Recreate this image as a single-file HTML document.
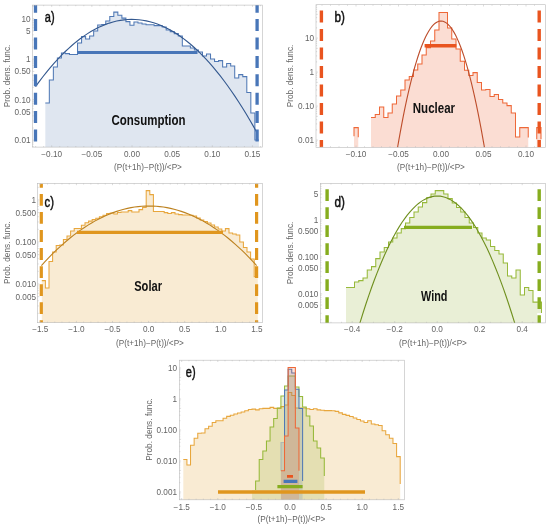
<!DOCTYPE html>
<html><head><meta charset="utf-8"><title>Figure</title>
<style>html,body{margin:0;padding:0;background:#fff}svg{display:block}</style></head>
<body>
<svg width="550" height="526" viewBox="0 0 550 526" font-family='"Liberation Sans", sans-serif'>
<rect width="550" height="526" fill="#fff"/>
<clipPath id="c1"><rect x="32.5" y="5.1" width="230.00" height="142.00"/></clipPath>
<g clip-path="url(#c1)">
<path d="M45.30,103.00H49.33V80.00H53.36V67.00H57.39V58.00H61.42V53.00H65.45V53.60H69.48V54.40H73.51V54.40H77.54V43.00H81.57V36.60H85.60V39.00H89.63V36.00H93.66V31.00H97.69V25.00H101.72V24.40H105.75V21.00H109.78V16.50H113.81V12.10H117.84V15.30H121.87V18.10H125.90V21.60H129.93V25.20H133.96V21.90H137.99V22.90H142.02V23.90H146.05V24.80H150.08V24.80H154.11V25.60H158.14V25.60H162.17V27.00H166.20V30.00H170.23V31.60H174.26V33.60H178.29V36.00H182.32V46.00H186.35V46.00H190.38V48.00H194.41V50.00H198.44V52.00H202.47V56.00H206.50V54.00H210.53V59.00H214.56V61.40H218.59V60.60H222.62V67.00H226.65V63.40H230.68V66.00H234.71V78.00H238.74V74.60H242.77V76.60H246.80V92.40H250.83V113.00H254.86V140.00H258.89V149.10H45.30Z" fill="#5e81b5" fill-opacity="0.2" stroke="none"/>
<path d="M45.30,103.00H49.33V80.00H53.36V67.00H57.39V58.00H61.42V53.00H65.45V53.60H69.48V54.40H73.51V54.40H77.54V43.00H81.57V36.60H85.60V39.00H89.63V36.00H93.66V31.00H97.69V25.00H101.72V24.40H105.75V21.00H109.78V16.50H113.81V12.10H117.84V15.30H121.87V18.10H125.90V21.60H129.93V25.20H133.96V21.90H137.99V22.90H142.02V23.90H146.05V24.80H150.08V24.80H154.11V25.60H158.14V25.60H162.17V27.00H166.20V30.00H170.23V31.60H174.26V33.60H178.29V36.00H182.32V46.00H186.35V46.00H190.38V48.00H194.41V50.00H198.44V52.00H202.47V56.00H206.50V54.00H210.53V59.00H214.56V61.40H218.59V60.60H222.62V67.00H226.65V63.40H230.68V66.00H234.71V78.00H238.74V74.60H242.77V76.60H246.80V92.40H250.83V113.00H254.86V140.00H258.89" fill="none" stroke="#5079b5" stroke-width="1.05"/>
<path d="M35.50,86.68L39.19,81.63L42.88,76.77L46.58,72.11L50.27,67.65L53.96,63.38L57.65,59.31L61.34,55.44L65.03,51.77L68.72,48.30L72.42,45.02L76.11,41.94L79.80,39.05L83.49,36.37L87.18,33.88L90.88,31.59L94.57,29.49L98.26,27.59L101.95,25.89L105.64,24.39L109.33,23.09L113.03,21.98L116.72,21.07L120.41,20.36L124.10,19.84L127.79,19.52L131.48,19.40L135.18,19.48L138.87,19.75L142.56,20.22L146.25,20.89L149.94,21.76L153.63,22.82L157.32,24.08L161.02,25.54L164.71,27.19L168.40,29.05L172.09,31.10L175.78,33.34L179.47,35.79L183.17,38.43L186.86,41.27L190.55,44.30L194.24,47.54L197.93,50.97L201.62,54.60L205.32,58.42L209.01,62.45L212.70,66.67L216.39,71.09L220.08,75.70L223.78,80.51L227.47,85.52L231.16,90.73L234.85,96.13L238.54,101.74L242.23,107.54L245.93,113.53L249.62,119.73L253.31,126.12L257.00,132.71" fill="none" stroke="#33588f" stroke-width="1.12"/>
<path d="M77.6,52.5H197.5" stroke="#4876b8" stroke-width="3.0" fill="none"/>
<path d="M35.50,5.10V12.70M35.50,19.10V31.10M35.50,37.50V49.50M35.50,55.90V67.90M35.50,74.30V86.30M35.50,92.70V104.70M35.50,111.10V123.10M35.50,129.50V141.50" stroke="#4876b8" stroke-width="3.3" fill="none"/>
<path d="M257.10,5.10V12.70M257.10,19.10V31.10M257.10,37.50V49.50M257.10,55.90V67.90M257.10,74.30V86.30M257.10,92.70V104.70M257.10,111.10V123.10M257.10,129.50V141.50" stroke="#4876b8" stroke-width="3.3" fill="none"/>
</g>
<rect x="32.5" y="5.1" width="230.00" height="142.00" fill="none" stroke="#b9b9b9" stroke-width="0.6"/>
<path d="M51.70,147.1v-1.8M51.70,5.1v1.8M91.85,147.1v-1.8M91.85,5.1v1.8M132.00,147.1v-1.8M132.00,5.1v1.8M172.15,147.1v-1.8M172.15,5.1v1.8M212.30,147.1v-1.8M212.30,5.1v1.8M252.45,147.1v-1.8M252.45,5.1v1.8M35.64,147.1v-1.1M35.64,5.1v1.1M43.67,147.1v-1.1M43.67,5.1v1.1M59.73,147.1v-1.1M59.73,5.1v1.1M67.76,147.1v-1.1M67.76,5.1v1.1M75.79,147.1v-1.1M75.79,5.1v1.1M83.82,147.1v-1.1M83.82,5.1v1.1M99.88,147.1v-1.1M99.88,5.1v1.1M107.91,147.1v-1.1M107.91,5.1v1.1M115.94,147.1v-1.1M115.94,5.1v1.1M123.97,147.1v-1.1M123.97,5.1v1.1M140.03,147.1v-1.1M140.03,5.1v1.1M148.06,147.1v-1.1M148.06,5.1v1.1M156.09,147.1v-1.1M156.09,5.1v1.1M164.12,147.1v-1.1M164.12,5.1v1.1M180.18,147.1v-1.1M180.18,5.1v1.1M188.21,147.1v-1.1M188.21,5.1v1.1M196.24,147.1v-1.1M196.24,5.1v1.1M204.27,147.1v-1.1M204.27,5.1v1.1M220.33,147.1v-1.1M220.33,5.1v1.1M228.36,147.1v-1.1M228.36,5.1v1.1M236.39,147.1v-1.1M236.39,5.1v1.1M244.42,147.1v-1.1M244.42,5.1v1.1M260.48,147.1v-1.1M260.48,5.1v1.1M32.5,140.20h1.8M32.5,111.89h1.8M32.5,99.70h1.8M32.5,71.39h1.8M32.5,59.20h1.8M32.5,30.89h1.8M32.5,18.70h1.8M32.5,146.47h1.1M32.5,144.12h1.1M32.5,142.05h1.1M32.5,128.01h1.1M32.5,120.88h1.1M32.5,115.82h1.1M32.5,108.68h1.1M32.5,105.97h1.1M32.5,103.62h1.1M32.5,101.55h1.1M32.5,87.51h1.1M32.5,80.38h1.1M32.5,75.32h1.1M32.5,68.18h1.1M32.5,65.47h1.1M32.5,63.12h1.1M32.5,61.05h1.1M32.5,47.01h1.1M32.5,39.88h1.1M32.5,34.82h1.1M32.5,27.68h1.1M32.5,24.97h1.1M32.5,22.62h1.1M32.5,20.55h1.1M32.5,6.51h1.1" fill="none" stroke="#b9b9b9" stroke-width="0.5"/>
<text x="51.70" y="157.30" font-size="8.2" text-anchor="middle" fill="#646464" >−0.10</text>
<text x="91.85" y="157.30" font-size="8.2" text-anchor="middle" fill="#646464" >−0.05</text>
<text x="132.00" y="157.30" font-size="8.2" text-anchor="middle" fill="#646464" >0.00</text>
<text x="172.15" y="157.30" font-size="8.2" text-anchor="middle" fill="#646464" >0.05</text>
<text x="212.30" y="157.30" font-size="8.2" text-anchor="middle" fill="#646464" >0.10</text>
<text x="252.45" y="157.30" font-size="8.2" text-anchor="middle" fill="#646464" >0.15</text>
<text x="30.50" y="21.60" font-size="8.2" text-anchor="end" fill="#646464" >10</text>
<text x="30.50" y="33.79" font-size="8.2" text-anchor="end" fill="#646464" >5</text>
<text x="30.50" y="62.10" font-size="8.2" text-anchor="end" fill="#646464" >1</text>
<text x="30.50" y="74.29" font-size="8.2" text-anchor="end" fill="#646464" >0.50</text>
<text x="30.50" y="102.60" font-size="8.2" text-anchor="end" fill="#646464" >0.10</text>
<text x="30.50" y="114.79" font-size="8.2" text-anchor="end" fill="#646464" >0.05</text>
<text x="30.50" y="143.10" font-size="8.2" text-anchor="end" fill="#646464" >0.01</text>
<text x="148.00" y="170.00" font-size="8.2" text-anchor="middle" fill="#646464" >(P(t+1h)−P(t))/&lt;P&gt;</text>
<text transform="translate(9.70,76.00) rotate(-90)" font-size="8.3" text-anchor="middle" fill="#646464">Prob. dens. func.</text>
<text x="44.80" y="21.60" font-size="15.2" font-weight="normal" fill="#111" stroke="#111" stroke-width="0.5" stroke-linejoin="round" textLength="9.8" lengthAdjust="spacingAndGlyphs" text-anchor="start">a)</text>
<text x="111.50" y="125.00" font-size="15.2" font-weight="bold" fill="#111" textLength="74" lengthAdjust="spacingAndGlyphs" text-anchor="start">Consumption</text>
<clipPath id="c2"><rect x="316.0" y="4.7" width="229.60" height="142.60"/></clipPath>
<g clip-path="url(#c2)">
<path d="M371.00,117.40H375.25V114.40H379.50V107.00H383.75V117.40H388.00V113.00H392.25V104.00H396.50V96.00H400.75V90.00H405.00V80.00H409.25V76.50H413.50V70.00H417.75V64.00H422.00V55.00H426.25V47.60H430.50V41.00H434.75V30.00H439.00V12.40H443.25V12.40H447.50V28.00H451.75V39.00H456.00V49.00H460.25V61.20H464.50V70.20H468.75V75.50H473.00V72.60H477.25V82.50H481.50V89.90H485.75V89.50H490.00V96.40H494.25V94.50H498.50V99.40H502.75V103.00H507.00V105.60H511.25V113.00H515.50V137.00H519.75V127.60H524.00V127.60H528.25V149.30H371.00Z" fill="#eb6235" fill-opacity="0.22" stroke="none"/>
<path d="M354.00,127.60H358.25V149.30H354.00Z" fill="#eb6235" fill-opacity="0.22" stroke="none"/>
<path d="M536.75,127.60H541.00V149.30H536.75Z" fill="#eb6235" fill-opacity="0.22" stroke="none"/>
<path d="M371.00,117.4H375.25V114.40H379.50V107.00H383.75V117.40H388.00V113.00H392.25V104.00H396.50V96.00H400.75V90.00H405.00V80.00H409.25V76.50H413.50V70.00H417.75V64.00H422.00V55.00H426.25V47.60H430.50V41.00H434.75V30.00H439.00V12.40H443.25V12.40H447.50V28.00H451.75V39.00H456.00V49.00H460.25V61.20H464.50V70.20H468.75V75.50H473.00V72.60H477.25V82.50H481.50V89.90H485.75V89.50H490.00V96.40H494.25V94.50H498.50V99.40H502.75V103.00H507.00V105.60H511.25V113.00H515.50V137.00H519.75V127.60H524.00V127.60H528.25V137.5" fill="none" stroke="#ee6838" stroke-width="1.05"/>
<path d="M354.00,136.3V127.6H358.25V137.3" fill="none" stroke="#ee6838" stroke-width="1.05"/>
<path d="M536.75,139.3V127.6H541.00V139.3" fill="none" stroke="#ee6838" stroke-width="1.05"/>
<path d="M394.00,169.00L395.58,159.20L397.17,149.73L398.75,140.60L400.33,131.80L401.92,123.34L403.50,115.22L405.08,107.43L406.67,99.98L408.25,92.86L409.83,86.08L411.42,79.64L413.00,73.53L414.58,67.76L416.17,62.32L417.75,57.22L419.33,52.45L420.92,48.02L422.50,43.93L424.08,40.17L425.67,36.75L427.25,33.67L428.83,30.92L430.42,28.50L432.00,26.43L433.58,24.69L435.17,23.28L436.75,22.21L438.33,21.48L439.92,21.08L441.50,21.02L443.08,21.29L444.67,21.90L446.25,22.85L447.83,24.13L449.42,25.75L451.00,27.70L452.58,29.99L454.17,32.62L455.75,35.58L457.33,38.87L458.92,42.51L460.50,46.48L462.08,50.78L463.67,55.42L465.25,60.40L466.83,65.71L468.42,71.36L470.00,77.35L471.58,83.67L473.17,90.32L474.75,97.32L476.33,104.65L477.92,112.31L479.50,120.31L481.08,128.65L482.67,137.32L484.25,146.33L485.83,155.67L487.42,165.35L489.00,175.37" fill="none" stroke="#bd4d2b" stroke-width="1.12"/>
<path d="M424.6,45.7H456.4" stroke="#e9541f" stroke-width="3.5" fill="none"/>
<path d="M321.40,10.40V22.60M321.40,28.90V41.10M321.40,47.40V59.60M321.40,65.90V78.10M321.40,84.40V96.60M321.40,102.90V115.10M321.40,121.40V133.60M321.40,139.90V147.30" stroke="#e9541f" stroke-width="3.4" fill="none"/>
<path d="M539.20,10.40V22.60M539.20,28.90V41.10M539.20,47.40V59.60M539.20,65.90V78.10M539.20,84.40V96.60M539.20,102.90V115.10M539.20,121.40V133.60M539.20,139.90V147.30" stroke="#e9541f" stroke-width="3.4" fill="none"/>
</g>
<rect x="316.0" y="4.7" width="229.60" height="142.60" fill="none" stroke="#b9b9b9" stroke-width="0.6"/>
<path d="M356.00,147.3v-1.8M356.00,4.7v1.8M398.50,147.3v-1.8M398.50,4.7v1.8M441.00,147.3v-1.8M441.00,4.7v1.8M483.50,147.3v-1.8M483.50,4.7v1.8M526.00,147.3v-1.8M526.00,4.7v1.8M322.00,147.3v-1.1M322.00,4.7v1.1M330.50,147.3v-1.1M330.50,4.7v1.1M339.00,147.3v-1.1M339.00,4.7v1.1M347.50,147.3v-1.1M347.50,4.7v1.1M364.50,147.3v-1.1M364.50,4.7v1.1M373.00,147.3v-1.1M373.00,4.7v1.1M381.50,147.3v-1.1M381.50,4.7v1.1M390.00,147.3v-1.1M390.00,4.7v1.1M407.00,147.3v-1.1M407.00,4.7v1.1M415.50,147.3v-1.1M415.50,4.7v1.1M424.00,147.3v-1.1M424.00,4.7v1.1M432.50,147.3v-1.1M432.50,4.7v1.1M449.50,147.3v-1.1M449.50,4.7v1.1M458.00,147.3v-1.1M458.00,4.7v1.1M466.50,147.3v-1.1M466.50,4.7v1.1M475.00,147.3v-1.1M475.00,4.7v1.1M492.00,147.3v-1.1M492.00,4.7v1.1M500.50,147.3v-1.1M500.50,4.7v1.1M509.00,147.3v-1.1M509.00,4.7v1.1M517.50,147.3v-1.1M517.50,4.7v1.1M534.50,147.3v-1.1M534.50,4.7v1.1M316.0,140.10h1.8M316.0,116.34h1.8M316.0,106.10h1.8M316.0,82.34h1.8M316.0,72.10h1.8M316.0,48.34h1.8M316.0,38.10h1.8M316.0,14.34h1.8M316.0,145.37h1.1M316.0,143.39h1.1M316.0,141.66h1.1M316.0,129.86h1.1M316.0,123.88h1.1M316.0,119.63h1.1M316.0,113.64h1.1M316.0,111.37h1.1M316.0,109.39h1.1M316.0,107.66h1.1M316.0,95.86h1.1M316.0,89.88h1.1M316.0,85.63h1.1M316.0,79.64h1.1M316.0,77.37h1.1M316.0,75.39h1.1M316.0,73.66h1.1M316.0,61.86h1.1M316.0,55.88h1.1M316.0,51.63h1.1M316.0,45.64h1.1M316.0,43.37h1.1M316.0,41.39h1.1M316.0,39.66h1.1M316.0,27.86h1.1M316.0,21.88h1.1M316.0,17.63h1.1M316.0,11.64h1.1M316.0,9.37h1.1M316.0,7.39h1.1M316.0,5.66h1.1" fill="none" stroke="#b9b9b9" stroke-width="0.5"/>
<text x="356.00" y="157.30" font-size="8.2" text-anchor="middle" fill="#646464" >−0.10</text>
<text x="398.50" y="157.30" font-size="8.2" text-anchor="middle" fill="#646464" >−0.05</text>
<text x="441.00" y="157.30" font-size="8.2" text-anchor="middle" fill="#646464" >0.00</text>
<text x="483.50" y="157.30" font-size="8.2" text-anchor="middle" fill="#646464" >0.05</text>
<text x="526.00" y="157.30" font-size="8.2" text-anchor="middle" fill="#646464" >0.10</text>
<text x="314.00" y="41.00" font-size="8.2" text-anchor="end" fill="#646464" >10</text>
<text x="314.00" y="75.00" font-size="8.2" text-anchor="end" fill="#646464" >1</text>
<text x="314.00" y="109.00" font-size="8.2" text-anchor="end" fill="#646464" >0.10</text>
<text x="314.00" y="143.00" font-size="8.2" text-anchor="end" fill="#646464" >0.01</text>
<text x="431.00" y="170.00" font-size="8.2" text-anchor="middle" fill="#646464" >(P(t+1h)−P(t))/&lt;P&gt;</text>
<text transform="translate(293.40,76.00) rotate(-90)" font-size="8.3" text-anchor="middle" fill="#646464">Prob. dens. func.</text>
<text x="334.60" y="21.60" font-size="15.2" font-weight="normal" fill="#111" stroke="#111" stroke-width="0.5" stroke-linejoin="round" textLength="10.4" lengthAdjust="spacingAndGlyphs" text-anchor="start">b)</text>
<text x="412.80" y="113.00" font-size="15.2" font-weight="bold" fill="#111" textLength="42.3" lengthAdjust="spacingAndGlyphs" text-anchor="start">Nuclear</text>
<clipPath id="c3"><rect x="37.6" y="183.4" width="225.00" height="139.30"/></clipPath>
<g clip-path="url(#c3)">
<path d="M41.80,280.60H45.40V288.00H49.00V261.40H52.60V252.00H56.20V245.40H59.80V245.00H63.40V239.40H67.00V236.00H70.60V230.90H74.20V228.50H77.80V228.50H81.40V225.20H85.00V222.70H88.60V221.10H92.20V219.60H95.80V218.20H99.40V216.80H103.00V215.20H106.60V213.60H110.20V213.00H113.80V214.00H117.40V212.40H121.00V212.00H124.60V212.00H128.20V210.60H131.80V212.00H135.40V212.00H139.00V209.60H142.60V207.40H146.20V190.60H149.80V194.60H153.40V211.40H157.00V211.40H160.60V211.40H164.20V212.60H167.80V213.40H171.40V212.60H175.00V214.00H178.60V214.60H182.20V215.00H185.80V215.00H189.40V215.20H193.00V216.00H196.60V218.00H200.20V220.00H203.80V221.40H207.40V223.00H211.00V225.00H214.60V227.00H218.20V229.00H221.80V231.00H225.40V228.60H229.00V233.00H232.60V234.00H236.20V235.00H239.80V242.00H243.40V247.40H247.00V252.00H250.60V259.00H254.20V276.70H257.80V324.70H41.80Z" fill="#e19c24" fill-opacity="0.2" stroke="none"/>
<path d="M41.80,280.60H45.40V288.00H49.00V261.40H52.60V252.00H56.20V245.40H59.80V245.00H63.40V239.40H67.00V236.00H70.60V230.90H74.20V228.50H77.80V228.50H81.40V225.20H85.00V222.70H88.60V221.10H92.20V219.60H95.80V218.20H99.40V216.80H103.00V215.20H106.60V213.60H110.20V213.00H113.80V214.00H117.40V212.40H121.00V212.00H124.60V212.00H128.20V210.60H131.80V212.00H135.40V212.00H139.00V209.60H142.60V207.40H146.20V190.60H149.80V194.60H153.40V211.40H157.00V211.40H160.60V211.40H164.20V212.60H167.80V213.40H171.40V212.60H175.00V214.00H178.60V214.60H182.20V215.00H185.80V215.00H189.40V215.20H193.00V216.00H196.60V218.00H200.20V220.00H203.80V221.40H207.40V223.00H211.00V225.00H214.60V227.00H218.20V229.00H221.80V231.00H225.40V228.60H229.00V233.00H232.60V234.00H236.20V235.00H239.80V242.00H243.40V247.40H247.00V252.00H250.60V259.00H254.20V276.70H257.80" fill="none" stroke="#e8a63c" stroke-width="1.05"/>
<path d="M41.40,265.51L44.99,261.61L48.57,257.84L52.16,254.20L55.75,250.70L59.33,247.33L62.92,244.09L66.51,240.98L70.09,238.00L73.68,235.16L77.27,232.45L80.85,229.87L84.44,227.42L88.03,225.11L91.61,222.93L95.20,220.88L98.79,218.96L102.37,217.17L105.96,215.52L109.55,214.00L113.13,212.61L116.72,211.36L120.31,210.23L123.89,209.24L127.48,208.38L131.07,207.65L134.65,207.06L138.24,206.60L141.83,206.26L145.41,206.07L149.00,206.00L152.59,206.07L156.17,206.26L159.76,206.60L163.35,207.06L166.93,207.65L170.52,208.38L174.11,209.24L177.69,210.23L181.28,211.36L184.87,212.61L188.45,214.00L192.04,215.52L195.63,217.17L199.21,218.96L202.80,220.88L206.39,222.93L209.97,225.11L213.56,227.42L217.15,229.87L220.73,232.45L224.32,235.16L227.91,238.00L231.49,240.98L235.08,244.09L238.67,247.33L242.25,250.70L245.84,254.20L249.43,257.84L253.01,261.61L256.60,265.51" fill="none" stroke="#bd8220" stroke-width="1.12"/>
<path d="M77,232.4H223" stroke="#e0961e" stroke-width="3.4" fill="none"/>
<path d="M41.30,183.40V187.76M41.30,194.00V205.80M41.30,212.04V223.84M41.30,230.08V241.88M41.30,248.12V259.92M41.30,266.16V277.96M41.30,284.20V296.00M41.30,302.24V314.04M41.30,320.28V322.70" stroke="#e0961e" stroke-width="3.2" fill="none"/>
<path d="M256.60,183.40V187.76M256.60,194.00V205.80M256.60,212.04V223.84M256.60,230.08V241.88M256.60,248.12V259.92M256.60,266.16V277.96M256.60,284.20V296.00M256.60,302.24V314.04M256.60,320.28V322.70" stroke="#e0961e" stroke-width="3.2" fill="none"/>
</g>
<rect x="37.6" y="183.4" width="225.00" height="139.30" fill="none" stroke="#b9b9b9" stroke-width="0.6"/>
<path d="M40.30,322.7v-1.8M40.30,183.4v1.8M76.40,322.7v-1.8M76.40,183.4v1.8M112.50,322.7v-1.8M112.50,183.4v1.8M148.60,322.7v-1.8M148.60,183.4v1.8M184.70,322.7v-1.8M184.70,183.4v1.8M220.80,322.7v-1.8M220.80,183.4v1.8M256.90,322.7v-1.8M256.90,183.4v1.8M47.52,322.7v-1.1M47.52,183.4v1.1M54.74,322.7v-1.1M54.74,183.4v1.1M61.96,322.7v-1.1M61.96,183.4v1.1M69.18,322.7v-1.1M69.18,183.4v1.1M83.62,322.7v-1.1M83.62,183.4v1.1M90.84,322.7v-1.1M90.84,183.4v1.1M98.06,322.7v-1.1M98.06,183.4v1.1M105.28,322.7v-1.1M105.28,183.4v1.1M119.72,322.7v-1.1M119.72,183.4v1.1M126.94,322.7v-1.1M126.94,183.4v1.1M134.16,322.7v-1.1M134.16,183.4v1.1M141.38,322.7v-1.1M141.38,183.4v1.1M155.82,322.7v-1.1M155.82,183.4v1.1M163.04,322.7v-1.1M163.04,183.4v1.1M170.26,322.7v-1.1M170.26,183.4v1.1M177.48,322.7v-1.1M177.48,183.4v1.1M191.92,322.7v-1.1M191.92,183.4v1.1M199.14,322.7v-1.1M199.14,183.4v1.1M206.36,322.7v-1.1M206.36,183.4v1.1M213.58,322.7v-1.1M213.58,183.4v1.1M228.02,322.7v-1.1M228.02,183.4v1.1M235.24,322.7v-1.1M235.24,183.4v1.1M242.46,322.7v-1.1M242.46,183.4v1.1M249.68,322.7v-1.1M249.68,183.4v1.1M37.6,296.64h1.8M37.6,284.00h1.8M37.6,254.64h1.8M37.6,242.00h1.8M37.6,212.64h1.8M37.6,200.00h1.8M37.6,313.36h1.1M37.6,305.96h1.1M37.6,300.71h1.1M37.6,293.32h1.1M37.6,290.51h1.1M37.6,288.07h1.1M37.6,285.92h1.1M37.6,271.36h1.1M37.6,263.96h1.1M37.6,258.71h1.1M37.6,251.32h1.1M37.6,248.51h1.1M37.6,246.07h1.1M37.6,243.92h1.1M37.6,229.36h1.1M37.6,221.96h1.1M37.6,216.71h1.1M37.6,209.32h1.1M37.6,206.51h1.1M37.6,204.07h1.1M37.6,201.92h1.1M37.6,187.36h1.1" fill="none" stroke="#b9b9b9" stroke-width="0.5"/>
<text x="40.30" y="332.30" font-size="8.2" text-anchor="middle" fill="#646464" >−1.5</text>
<text x="76.40" y="332.30" font-size="8.2" text-anchor="middle" fill="#646464" >−1.0</text>
<text x="112.50" y="332.30" font-size="8.2" text-anchor="middle" fill="#646464" >−0.5</text>
<text x="148.60" y="332.30" font-size="8.2" text-anchor="middle" fill="#646464" >0.0</text>
<text x="184.70" y="332.30" font-size="8.2" text-anchor="middle" fill="#646464" >0.5</text>
<text x="220.80" y="332.30" font-size="8.2" text-anchor="middle" fill="#646464" >1.0</text>
<text x="256.90" y="332.30" font-size="8.2" text-anchor="middle" fill="#646464" >1.5</text>
<text x="36.00" y="202.90" font-size="8.2" text-anchor="end" fill="#646464" >1</text>
<text x="36.00" y="215.54" font-size="8.2" text-anchor="end" fill="#646464" >0.500</text>
<text x="36.00" y="244.90" font-size="8.2" text-anchor="end" fill="#646464" >0.100</text>
<text x="36.00" y="257.54" font-size="8.2" text-anchor="end" fill="#646464" >0.050</text>
<text x="36.00" y="286.90" font-size="8.2" text-anchor="end" fill="#646464" >0.010</text>
<text x="36.00" y="299.54" font-size="8.2" text-anchor="end" fill="#646464" >0.005</text>
<text x="150.00" y="345.50" font-size="8.2" text-anchor="middle" fill="#646464" >(P(t+1h)−P(t))/&lt;P&gt;</text>
<text transform="translate(9.70,252.60) rotate(-90)" font-size="8.3" text-anchor="middle" fill="#646464">Prob. dens. func.</text>
<text x="44.60" y="207.00" font-size="15.2" font-weight="normal" fill="#111" stroke="#111" stroke-width="0.5" stroke-linejoin="round" textLength="9.4" lengthAdjust="spacingAndGlyphs" text-anchor="start">c)</text>
<text x="134.20" y="290.50" font-size="15.2" font-weight="bold" fill="#111" textLength="27.8" lengthAdjust="spacingAndGlyphs" text-anchor="start">Solar</text>
<clipPath id="c4"><rect x="320.4" y="183.4" width="225.20" height="139.50"/></clipPath>
<g clip-path="url(#c4)">
<path d="M346.00,287.40H350.25V287.40H354.50V282.00H358.75V280.60H363.00V278.00H367.25V270.00H371.50V266.60H375.75V258.60H380.00V252.00H384.25V247.50H388.50V242.00H392.75V238.00H397.00V233.00H401.25V228.60H405.50V223.00H409.75V217.40H414.00V212.00H418.25V207.00H422.50V202.60H426.75V197.40H431.00V194.00H435.25V190.60H439.50V190.60H443.75V194.00H448.00V198.60H452.25V203.00H456.50V207.40H460.75V212.00H465.00V217.40H469.25V223.00H473.50V227.40H477.75V233.00H482.00V238.00H486.25V240.00H490.50V246.50H494.75V250.50H499.00V254.00H503.25V263.00H507.50V276.00H511.75V278.00H516.00V270.00H520.25V295.00H524.50V287.40H528.75V290.50H533.00V302.10H537.25V324.90H346.00Z" fill="#8fb032" fill-opacity="0.2" stroke="none"/>
<path d="M346.00,287.40H350.25V287.40H354.50V282.00H358.75V280.60H363.00V278.00H367.25V270.00H371.50V266.60H375.75V258.60H380.00V252.00H384.25V247.50H388.50V242.00H392.75V238.00H397.00V233.00H401.25V228.60H405.50V223.00H409.75V217.40H414.00V212.00H418.25V207.00H422.50V202.60H426.75V197.40H431.00V194.00H435.25V190.60H439.50V190.60H443.75V194.00H448.00V198.60H452.25V203.00H456.50V207.40H460.75V212.00H465.00V217.40H469.25V223.00H473.50V227.40H477.75V233.00H482.00V238.00H486.25V240.00H490.50V246.50H494.75V250.50H499.00V254.00H503.25V263.00H507.50V276.00H511.75V278.00H516.00V270.00H520.25V295.00H524.50V287.40H528.75V290.50H533.00V302.10H537.25" fill="none" stroke="#97b93a" stroke-width="1.05"/>
<path d="M355.00,339.59L357.75,330.16L360.50,321.04L363.25,312.25L366.00,303.77L368.75,295.62L371.50,287.79L374.25,280.28L377.00,273.09L379.75,266.21L382.50,259.66L385.25,253.44L388.00,247.53L390.75,241.94L393.50,236.67L396.25,231.72L399.00,227.10L401.75,222.79L404.50,218.81L407.25,215.14L410.00,211.80L412.75,208.78L415.50,206.08L418.25,203.69L421.00,201.63L423.75,199.89L426.50,198.47L429.25,197.37L432.00,196.60L434.75,196.14L437.50,196.00L440.25,196.18L443.00,196.69L445.75,197.51L448.50,198.66L451.25,200.13L454.00,201.91L456.75,204.02L459.50,206.45L462.25,209.20L465.00,212.27L467.75,215.66L470.50,219.37L473.25,223.40L476.00,227.75L478.75,232.42L481.50,237.42L484.25,242.73L487.00,248.37L489.75,254.32L492.50,260.60L495.25,267.19L498.00,274.11L500.75,281.35L503.50,288.91L506.25,296.79L509.00,304.99L511.75,313.51L514.50,322.35L517.25,331.51L520.00,340.99" fill="none" stroke="#70901f" stroke-width="1.12"/>
<rect x="537.25" y="302.1" width="4.25" height="11" fill="#8fb032" fill-opacity="0.2"/>
<path d="M537.25,302.1H541.50V313" fill="none" stroke="#97b93a" stroke-width="1.05"/>
<path d="M404,227.4H472" stroke="#86ad1f" stroke-width="3.4" fill="none"/>
<path d="M327.10,189.20V201.00M327.10,207.22V219.02M327.10,225.24V237.04M327.10,243.26V255.06M327.10,261.28V273.08M327.10,279.30V291.10M327.10,297.32V309.12M327.10,315.34V322.90" stroke="#86ad1f" stroke-width="3.4" fill="none"/>
<path d="M539.20,189.20V201.00M539.20,207.22V219.02M539.20,225.24V237.04M539.20,243.26V255.06M539.20,261.28V273.08M539.20,279.30V291.10M539.20,297.32V309.12M539.20,315.34V322.90" stroke="#86ad1f" stroke-width="3.4" fill="none"/>
</g>
<rect x="320.4" y="183.4" width="225.20" height="139.50" fill="none" stroke="#b9b9b9" stroke-width="0.6"/>
<path d="M352.20,322.9v-1.8M352.20,183.4v1.8M394.70,322.9v-1.8M394.70,183.4v1.8M437.20,322.9v-1.8M437.20,183.4v1.8M479.70,322.9v-1.8M479.70,183.4v1.8M522.20,322.9v-1.8M522.20,183.4v1.8M330.95,322.9v-1.1M330.95,183.4v1.1M341.57,322.9v-1.1M341.57,183.4v1.1M362.82,322.9v-1.1M362.82,183.4v1.1M373.45,322.9v-1.1M373.45,183.4v1.1M384.07,322.9v-1.1M384.07,183.4v1.1M405.32,322.9v-1.1M405.32,183.4v1.1M415.95,322.9v-1.1M415.95,183.4v1.1M426.57,322.9v-1.1M426.57,183.4v1.1M447.82,322.9v-1.1M447.82,183.4v1.1M458.45,322.9v-1.1M458.45,183.4v1.1M469.07,322.9v-1.1M469.07,183.4v1.1M490.32,322.9v-1.1M490.32,183.4v1.1M500.95,322.9v-1.1M500.95,183.4v1.1M511.57,322.9v-1.1M511.57,183.4v1.1M532.83,322.9v-1.1M532.83,183.4v1.1M320.4,305.04h1.8M320.4,293.90h1.8M320.4,268.04h1.8M320.4,256.90h1.8M320.4,231.04h1.8M320.4,219.90h1.8M320.4,194.04h1.8M320.4,319.76h1.1M320.4,313.25h1.1M320.4,308.62h1.1M320.4,302.11h1.1M320.4,299.63h1.1M320.4,297.49h1.1M320.4,295.59h1.1M320.4,282.76h1.1M320.4,276.25h1.1M320.4,271.62h1.1M320.4,265.11h1.1M320.4,262.63h1.1M320.4,260.49h1.1M320.4,258.59h1.1M320.4,245.76h1.1M320.4,239.25h1.1M320.4,234.62h1.1M320.4,228.11h1.1M320.4,225.63h1.1M320.4,223.49h1.1M320.4,221.59h1.1M320.4,208.76h1.1M320.4,202.25h1.1M320.4,197.62h1.1M320.4,191.11h1.1M320.4,188.63h1.1M320.4,186.49h1.1M320.4,184.59h1.1" fill="none" stroke="#b9b9b9" stroke-width="0.5"/>
<text x="352.20" y="332.30" font-size="8.2" text-anchor="middle" fill="#646464" >−0.4</text>
<text x="394.70" y="332.30" font-size="8.2" text-anchor="middle" fill="#646464" >−0.2</text>
<text x="437.20" y="332.30" font-size="8.2" text-anchor="middle" fill="#646464" >0.0</text>
<text x="479.70" y="332.30" font-size="8.2" text-anchor="middle" fill="#646464" >0.2</text>
<text x="522.20" y="332.30" font-size="8.2" text-anchor="middle" fill="#646464" >0.4</text>
<text x="318.40" y="196.94" font-size="8.2" text-anchor="end" fill="#646464" >5</text>
<text x="318.40" y="222.80" font-size="8.2" text-anchor="end" fill="#646464" >1</text>
<text x="318.40" y="233.94" font-size="8.2" text-anchor="end" fill="#646464" >0.500</text>
<text x="318.40" y="259.80" font-size="8.2" text-anchor="end" fill="#646464" >0.100</text>
<text x="318.40" y="270.94" font-size="8.2" text-anchor="end" fill="#646464" >0.050</text>
<text x="318.40" y="296.80" font-size="8.2" text-anchor="end" fill="#646464" >0.010</text>
<text x="318.40" y="307.94" font-size="8.2" text-anchor="end" fill="#646464" >0.005</text>
<text x="433.00" y="345.50" font-size="8.2" text-anchor="middle" fill="#646464" >(P(t+1h)−P(t))/&lt;P&gt;</text>
<text transform="translate(293.40,253.00) rotate(-90)" font-size="8.3" text-anchor="middle" fill="#646464">Prob. dens. func.</text>
<text x="334.60" y="207.00" font-size="15.2" font-weight="normal" fill="#111" stroke="#111" stroke-width="0.5" stroke-linejoin="round" textLength="10.4" lengthAdjust="spacingAndGlyphs" text-anchor="start">d)</text>
<text x="421.10" y="301.30" font-size="15.2" font-weight="bold" fill="#111" textLength="26.4" lengthAdjust="spacingAndGlyphs" text-anchor="start">Wind</text>
<clipPath id="c5"><rect x="179.3" y="360.2" width="225.30" height="139.60"/></clipPath>
<g clip-path="url(#c5)">
<path d="M183.30,459.51H186.92V465.02H190.53V445.20H194.15V438.20H197.76V433.28H201.38V432.98H204.99V428.81H208.61V426.27H212.22V422.47H215.84V420.69H219.45V420.69H223.07V418.23H226.68V416.36H230.30V415.17H233.91V414.05H237.53V413.01H241.14V411.97H244.76V410.77H248.37V409.58H251.99V409.13H255.60V409.88H259.22V408.69H262.83V408.39H266.45V408.39H270.06V407.35H273.68V408.39H277.29V408.39H280.91V406.60H284.52V404.96H288.13V392.44H291.75V395.42H295.37V407.94H298.98V407.94H302.60V407.94H306.21V408.84H309.83V409.43H313.44V408.84H317.06V409.88H320.67V410.33H324.29V410.62H327.90V410.62H331.52V410.77H335.13V411.37H338.75V412.86H342.36V414.35H345.98V415.39H349.59V416.59H353.21V418.08H356.82V419.57H360.44V421.06H364.05V422.55H367.67V420.76H371.28V424.04H374.90V424.78H378.51V425.53H382.12V430.75H385.74V434.77H389.36V438.20H392.97V443.41H396.59V456.60H400.20V501.80H183.30Z" fill="#e19c24" fill-opacity="0.2" stroke="none"/>
<path d="M183.30,459.51H186.92V465.02H190.53V445.20H194.15V438.20H197.76V433.28H201.38V432.98H204.99V428.81H208.61V426.27H212.22V422.47H215.84V420.69H219.45V420.69H223.07V418.23H226.68V416.36H230.30V415.17H233.91V414.05H237.53V413.01H241.14V411.97H244.76V410.77H248.37V409.58H251.99V409.13H255.60V409.88H259.22V408.69H262.83V408.39H266.45V408.39H270.06V407.35H273.68V408.39H277.29V408.39H280.91V406.60H284.52V404.96H288.13V392.44H291.75V395.42H295.37V407.94H298.98V407.94H302.60V407.94H306.21V408.84H309.83V409.43H313.44V408.84H317.06V409.88H320.67V410.33H324.29V410.62H327.90V410.62H331.52V410.77H335.13V411.37H338.75V412.86H342.36V414.35H345.98V415.39H349.59V416.59H353.21V418.08H356.82V419.57H360.44V421.06H364.05V422.55H367.67V420.76H371.28V424.04H374.90V424.78H378.51V425.53H382.12V430.75H385.74V434.77H389.36V438.20H392.97V443.41H396.59V456.60H400.20V484" fill="none" stroke="#e8a63c" stroke-width="1.05"/>
<path d="M251.99,490.00H255.60V481.00H259.22V459.40H262.83V451.00H266.45V441.00H270.06V427.00H273.68V418.40H277.29V408.00H280.91V396.00H284.52V386.00H288.13V376.00H291.75V376.00H295.37V387.00H298.98V396.40H302.60V407.00H306.21V416.00H309.83V426.00H313.44V441.00H317.06V448.00H320.67V458.00H324.29V501.80H251.99Z" fill="#8fb032" fill-opacity="0.2" stroke="none"/>
<path d="M255.60,490V481H259.22V459.40H262.83V451.00H266.45V441.00H270.06V427.00H273.68V418.40H277.29V408.00H280.91V396.00H284.52V386.00H288.13V376.00H291.75V376.00H295.37V387.00H298.98V396.40H302.60V407.00H306.21V416.00H309.83V426.00H313.44V441.00H317.06V448.00H320.67V458.00H324.29V476" fill="none" stroke="#97b93a" stroke-width="1.05"/>
<path d="M280.91,442.50H284.52V390.00H288.13V369.30H291.75V373.00H295.37V389.20H298.98V408.50H302.60V501.80H280.91Z" fill="#5e81b5" fill-opacity="0.2" stroke="none"/>
<path d="M280.91,470.7V442.5H284.52" fill="none" stroke="#5079b5" stroke-opacity="0.3" stroke-width="1.05"/>
<path d="M284.52,436V390H288.13V369.30H291.75V373.00H295.37V389.20H298.98V408.50H302.60V481" fill="none" stroke="#5079b5" stroke-width="1.05"/>
<path d="M280.91,470.70H284.52V436.00H288.13V367.40H291.75V367.40H295.37V428.00H298.98V501.80H280.91Z" fill="#eb6235" fill-opacity="0.2" stroke="none"/>
<path d="M280.91,470.70H284.52V436.00H288.13V367.40H291.75V367.40H295.37V428.00H298.98V470.7" fill="none" stroke="#ee6838" stroke-width="1.05"/>
<path d="M218,492H365" stroke="#e0961e" stroke-width="3.7" fill="none"/>
<path d="M277.4,486.6H302.6" stroke="#86ad1f" stroke-width="3.2" fill="none"/>
<path d="M283.6,481.4H297.4" stroke="#4876b8" stroke-width="3.1" fill="none"/>
<path d="M287,476.4H293" stroke="#e9541f" stroke-width="2.8" fill="none"/>
</g>
<rect x="179.3" y="360.2" width="225.30" height="139.60" fill="none" stroke="#b9b9b9" stroke-width="0.6"/>
<path d="M181.70,499.8v-1.8M181.70,360.2v1.8M217.80,499.8v-1.8M217.80,360.2v1.8M253.90,499.8v-1.8M253.90,360.2v1.8M290.00,499.8v-1.8M290.00,360.2v1.8M326.10,499.8v-1.8M326.10,360.2v1.8M362.20,499.8v-1.8M362.20,360.2v1.8M398.30,499.8v-1.8M398.30,360.2v1.8M188.92,499.8v-1.1M188.92,360.2v1.1M196.14,499.8v-1.1M196.14,360.2v1.1M203.36,499.8v-1.1M203.36,360.2v1.1M210.58,499.8v-1.1M210.58,360.2v1.1M225.02,499.8v-1.1M225.02,360.2v1.1M232.24,499.8v-1.1M232.24,360.2v1.1M239.46,499.8v-1.1M239.46,360.2v1.1M246.68,499.8v-1.1M246.68,360.2v1.1M261.12,499.8v-1.1M261.12,360.2v1.1M268.34,499.8v-1.1M268.34,360.2v1.1M275.56,499.8v-1.1M275.56,360.2v1.1M282.78,499.8v-1.1M282.78,360.2v1.1M297.22,499.8v-1.1M297.22,360.2v1.1M304.44,499.8v-1.1M304.44,360.2v1.1M311.66,499.8v-1.1M311.66,360.2v1.1M318.88,499.8v-1.1M318.88,360.2v1.1M333.32,499.8v-1.1M333.32,360.2v1.1M340.54,499.8v-1.1M340.54,360.2v1.1M347.76,499.8v-1.1M347.76,360.2v1.1M354.98,499.8v-1.1M354.98,360.2v1.1M369.42,499.8v-1.1M369.42,360.2v1.1M376.64,499.8v-1.1M376.64,360.2v1.1M383.86,499.8v-1.1M383.86,360.2v1.1M391.08,499.8v-1.1M391.08,360.2v1.1M179.3,492.00h1.8M179.3,470.33h1.8M179.3,461.00h1.8M179.3,439.33h1.8M179.3,430.00h1.8M179.3,408.33h1.8M179.3,399.00h1.8M179.3,377.33h1.8M179.3,368.00h1.8M179.3,498.88h1.1M179.3,496.80h1.1M179.3,495.00h1.1M179.3,493.42h1.1M179.3,482.67h1.1M179.3,477.21h1.1M179.3,473.34h1.1M179.3,467.88h1.1M179.3,465.80h1.1M179.3,464.00h1.1M179.3,462.42h1.1M179.3,451.67h1.1M179.3,446.21h1.1M179.3,442.34h1.1M179.3,436.88h1.1M179.3,434.80h1.1M179.3,433.00h1.1M179.3,431.42h1.1M179.3,420.67h1.1M179.3,415.21h1.1M179.3,411.34h1.1M179.3,405.88h1.1M179.3,403.80h1.1M179.3,402.00h1.1M179.3,400.42h1.1M179.3,389.67h1.1M179.3,384.21h1.1M179.3,380.34h1.1M179.3,374.88h1.1M179.3,372.80h1.1M179.3,371.00h1.1M179.3,369.42h1.1" fill="none" stroke="#b9b9b9" stroke-width="0.5"/>
<text x="181.70" y="510.00" font-size="8.2" text-anchor="middle" fill="#646464" >−1.5</text>
<text x="217.80" y="510.00" font-size="8.2" text-anchor="middle" fill="#646464" >−1.0</text>
<text x="253.90" y="510.00" font-size="8.2" text-anchor="middle" fill="#646464" >−0.5</text>
<text x="290.00" y="510.00" font-size="8.2" text-anchor="middle" fill="#646464" >0.0</text>
<text x="326.10" y="510.00" font-size="8.2" text-anchor="middle" fill="#646464" >0.5</text>
<text x="362.20" y="510.00" font-size="8.2" text-anchor="middle" fill="#646464" >1.0</text>
<text x="398.30" y="510.00" font-size="8.2" text-anchor="middle" fill="#646464" >1.5</text>
<text x="177.00" y="370.90" font-size="8.2" text-anchor="end" fill="#646464" >10</text>
<text x="177.00" y="401.90" font-size="8.2" text-anchor="end" fill="#646464" >1</text>
<text x="177.00" y="432.90" font-size="8.2" text-anchor="end" fill="#646464" >0.100</text>
<text x="177.00" y="463.90" font-size="8.2" text-anchor="end" fill="#646464" >0.010</text>
<text x="177.00" y="494.90" font-size="8.2" text-anchor="end" fill="#646464" >0.001</text>
<text x="291.50" y="522.00" font-size="8.2" text-anchor="middle" fill="#646464" >(P(t+1h)−P(t))/&lt;P&gt;</text>
<text transform="translate(152.20,429.50) rotate(-90)" font-size="8.3" text-anchor="middle" fill="#646464">Prob. dens. func.</text>
<text x="185.80" y="377.00" font-size="15.2" font-weight="normal" fill="#111" stroke="#111" stroke-width="0.5" stroke-linejoin="round" textLength="9.8" lengthAdjust="spacingAndGlyphs" text-anchor="start">e)</text>
</svg>
</body></html>
